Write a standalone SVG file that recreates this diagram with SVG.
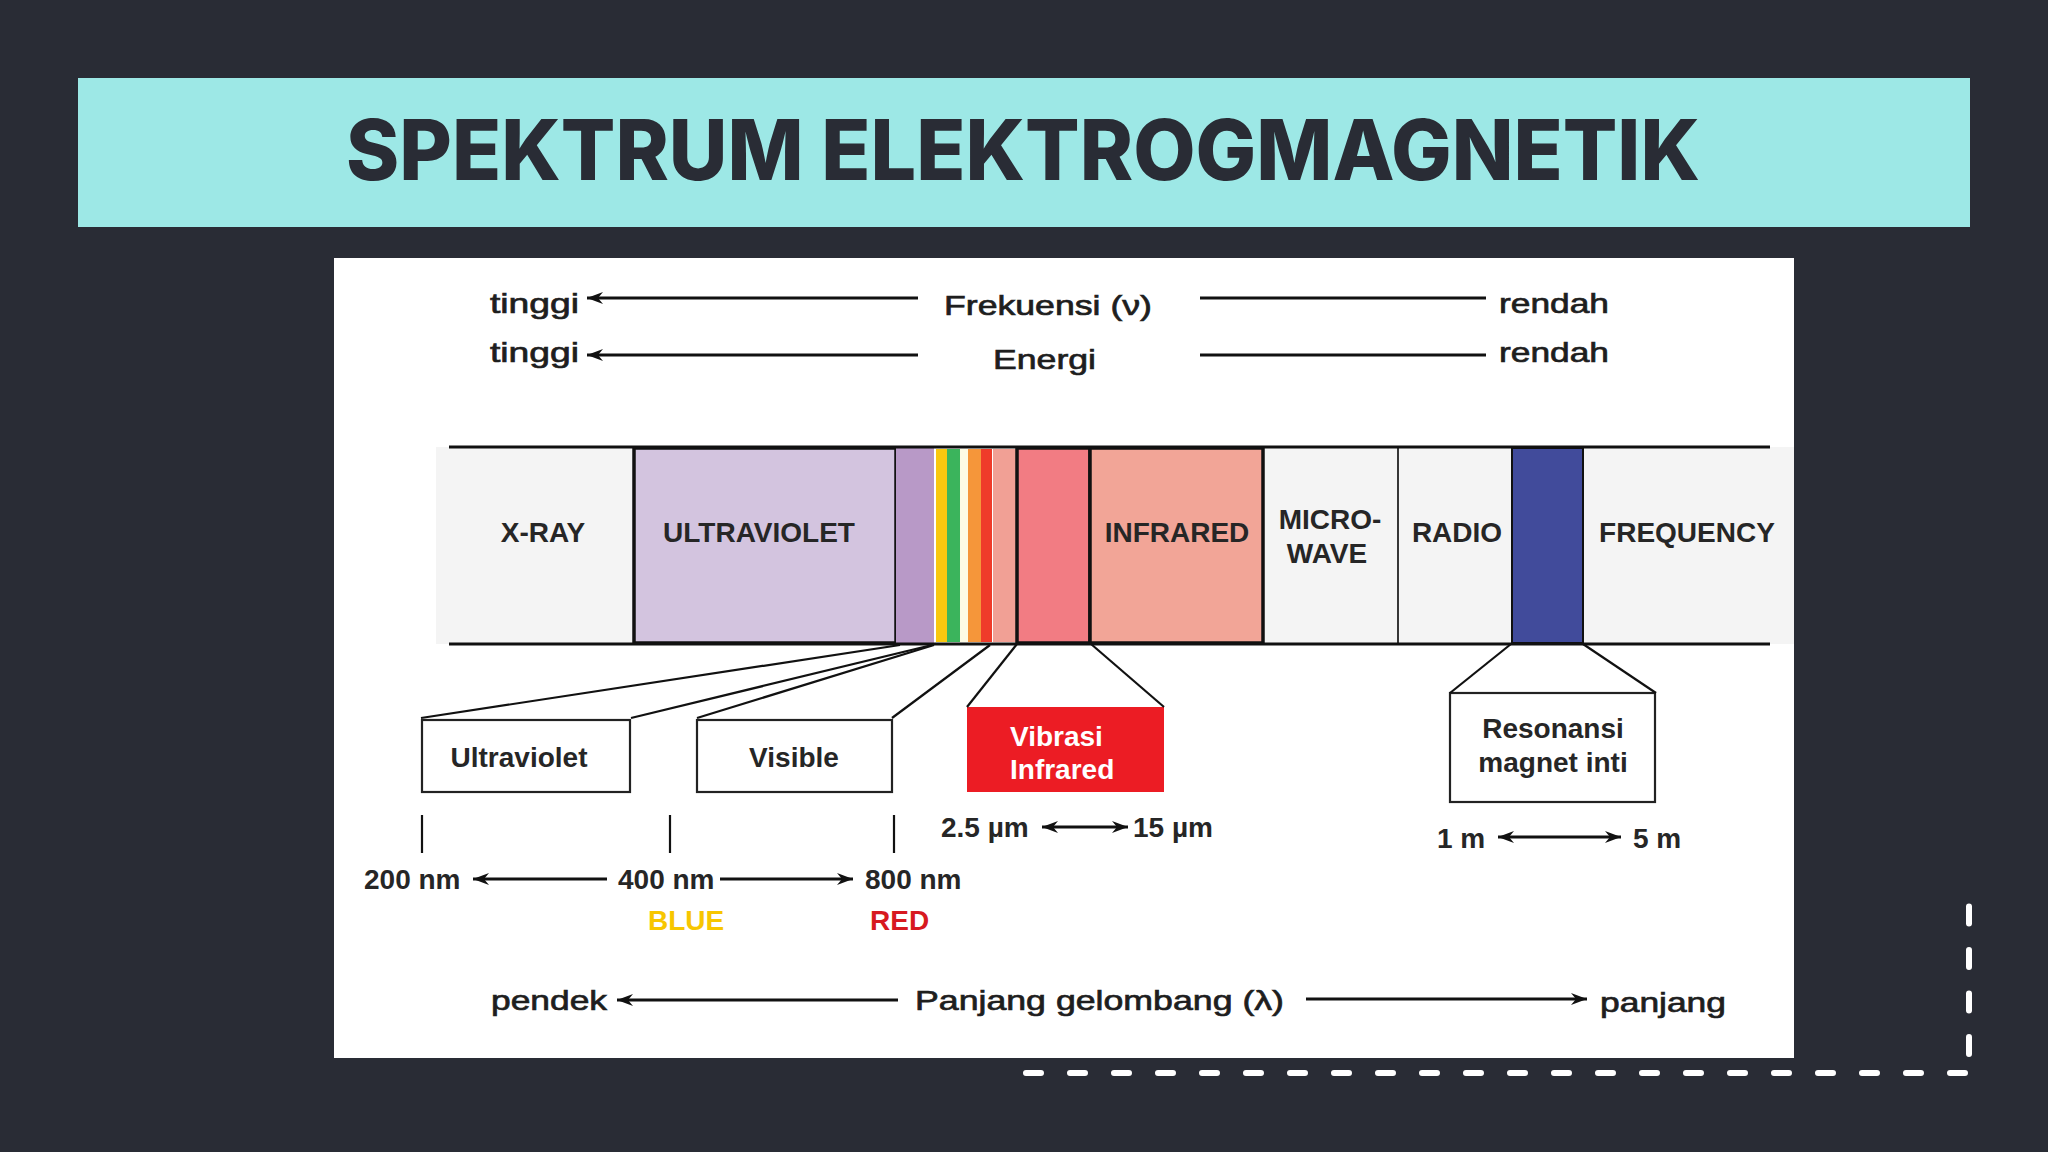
<svg xmlns="http://www.w3.org/2000/svg" width="2048" height="1152" viewBox="0 0 2048 1152">
  <defs>
    <marker id="ah" markerUnits="userSpaceOnUse" markerWidth="18" markerHeight="14" refX="16" refY="7" orient="auto-start-reverse">
      <path d="M0,1 L16,7 L0,13 L5,7 Z" fill="#111"/>
    </marker>
    <style>
      .t { font-family: "Liberation Sans", Arial, sans-serif; fill: #1e1e1e; font-size: 28px; }
      .m { stroke: #1e1e1e; stroke-width: 0.7px; }
      .b { font-weight: bold; fill: #262626; }
      .c { text-anchor: middle; }
      .ln { stroke: #111; stroke-width: 3; fill: none; }
      .thin { stroke: #111; stroke-width: 2.2; fill: none; }
      .box { fill: #ffffff; stroke: #222; stroke-width: 2.2; }
      .band { stroke: #111; stroke-width: 3.5; }
      .dash { stroke: #ffffff; stroke-width: 6; stroke-linecap: round; fill: none; }
    </style>
  </defs>

  <rect x="0" y="0" width="2048" height="1152" fill="#292c35"/>

  <g id="title">
    <rect x="78" y="78" width="1892" height="149" fill="#9de8e6"/>
    <text x="346" y="180" font-family="Inter, 'Open Sans', sans-serif" font-weight="800" font-size="84" fill="#292c35" textLength="1354" lengthAdjust="spacingAndGlyphs">SPEKTRUM ELEKTROGMAGNETIK</text>
  </g>

  <g id="panel">
    <rect x="334" y="258" width="1460" height="800" fill="#ffffff"/>
  </g>

  <g id="decor-dashes">
    <path class="dash" d="M1026,1073 H1969" stroke-dasharray="15 29"/>
    <path class="dash" d="M1969,1054 V900" stroke-dasharray="17 26.5"/>
  </g>

  <g id="header-labels">
    <text class="t m" x="490" y="313" textLength="89" lengthAdjust="spacingAndGlyphs">tinggi</text>
    <text class="t m" x="944" y="315" textLength="208" lengthAdjust="spacingAndGlyphs">Frekuensi (ν)</text>
    <text class="t m" x="1499" y="313" textLength="110" lengthAdjust="spacingAndGlyphs">rendah</text>
    <text class="t m" x="490" y="362" textLength="89" lengthAdjust="spacingAndGlyphs">tinggi</text>
    <text class="t m" x="993" y="369" textLength="103" lengthAdjust="spacingAndGlyphs">Energi</text>
    <text class="t m" x="1499" y="362" textLength="110" lengthAdjust="spacingAndGlyphs">rendah</text>
  </g>

  <g id="spectrum-bar">
    <rect x="436" y="447" width="1358" height="197" fill="#f4f4f4"/>
    <rect class="band" x="634" y="448" width="262" height="195" fill="#d3c4df"/>
    <rect x="896" y="448" width="38" height="195" fill="#b899c7"/>
    <rect x="934" y="448" width="83" height="195" fill="#ffffff"/>
    <rect x="936" y="449" width="11" height="193" fill="#f8c80f"/>
    <rect x="947" y="449" width="13" height="193" fill="#3bb45c"/>
    <rect x="960" y="449" width="8" height="193" fill="#fdfbe4"/>
    <rect x="968" y="449" width="13" height="193" fill="#f5963a"/>
    <rect x="981" y="449" width="11" height="193" fill="#ef3b2a"/>
    <rect x="993" y="449" width="23" height="193" fill="#f1a095"/>
    <rect class="band" x="1017" y="448" width="73" height="195" fill="#f27c83"/>
    <rect class="band" x="1090" y="448" width="173" height="195" fill="#f2a597"/>
    <line x1="1398" y1="447" x2="1398" y2="644" stroke="#222" stroke-width="1.8"/>
    <rect x="1512" y="448" width="71" height="195" fill="#414b9b" stroke="#111" stroke-width="2"/>
    <line class="ln" x1="449" y1="447" x2="1770" y2="447" stroke-width="2.5"/>
    <line class="ln" x1="449" y1="644" x2="1770" y2="644" stroke-width="2.5"/>
    <text class="t b c" x="543" y="542">X-RAY</text>
    <text class="t b c" x="759" y="542">ULTRAVIOLET</text>
    <text class="t b c" x="1177" y="542">INFRARED</text>
    <text class="t b c" x="1330" y="529">MICRO-</text>
    <text class="t b c" x="1327" y="563">WAVE</text>
    <text class="t b c" x="1457" y="542">RADIO</text>
    <text class="t b c" x="1687" y="542">FREQUENCY</text>
  </g>

  <g id="node-ultraviolet">
    <rect class="box" x="422" y="720" width="208" height="72"/>
    <text class="t b c" x="519" y="767">Ultraviolet</text>
  </g>

  <g id="node-visible">
    <rect class="box" x="697" y="720" width="195" height="72"/>
    <text class="t b c" x="794" y="767">Visible</text>
  </g>

  <g id="node-vibrasi">
    <rect x="967" y="707" width="197" height="85" fill="#ec1c24"/>
    <text class="t b" x="1010" y="746" style="fill:#ffffff">Vibrasi</text>
    <text class="t b" x="1010" y="779" style="fill:#ffffff">Infrared</text>
  </g>

  <g id="node-resonansi">
    <rect class="box" x="1450" y="693" width="205" height="109"/>
    <text class="t b c" x="1553" y="738">Resonansi</text>
    <text class="t b c" x="1553" y="772">magnet inti</text>
  </g>

  <g id="connectors">
    <line class="thin" x1="421" y1="718" x2="900" y2="645"/>
    <line class="thin" x1="631" y1="718" x2="932" y2="645"/>
    <line class="thin" x1="697" y1="718" x2="934" y2="645"/>
    <line class="thin" x1="892" y1="718" x2="990" y2="645"/>
    <line class="thin" x1="967" y1="707" x2="1017" y2="644"/>
    <line class="thin" x1="1164" y1="707" x2="1091" y2="644"/>
    <line class="thin" x1="1450" y1="693" x2="1511" y2="644"/>
    <line class="thin" x1="1656" y1="693" x2="1583" y2="644"/>

    <line class="ln" x1="918" y1="298" x2="587" y2="298" marker-end="url(#ah)"/>
    <line class="ln" x1="1200" y1="298" x2="1486" y2="298"/>
    <line class="ln" x1="918" y1="355" x2="587" y2="355" stroke-width="3.5" marker-end="url(#ah)"/>
    <line class="ln" x1="1200" y1="355" x2="1486" y2="355"/>

    <line class="thin" x1="422" y1="815" x2="422" y2="853"/>
    <line class="thin" x1="670" y1="815" x2="670" y2="853"/>
    <line class="thin" x1="894" y1="815" x2="894" y2="853"/>

    <line class="ln" x1="607" y1="879" x2="473" y2="879" marker-end="url(#ah)"/>
    <line class="ln" x1="720" y1="879" x2="853" y2="879" marker-end="url(#ah)"/>
    <line class="ln" x1="1042" y1="827" x2="1128" y2="827" marker-start="url(#ah)" marker-end="url(#ah)"/>
    <line class="ln" x1="1498" y1="837" x2="1621" y2="837" marker-start="url(#ah)" marker-end="url(#ah)"/>
    <line class="ln" x1="898" y1="1000" x2="617" y2="1000" marker-end="url(#ah)"/>
    <line class="ln" x1="1306" y1="999" x2="1587" y2="999" marker-end="url(#ah)"/>
  </g>

  <g id="scale-labels">
    <text class="t b" x="941" y="837">2.5 µm</text>
    <text class="t b" x="1133" y="837">15 µm</text>
    <text class="t b" x="1437" y="848">1 m</text>
    <text class="t b" x="1633" y="848">5 m</text>
    <text class="t b" x="364" y="889">200 nm</text>
    <text class="t b" x="618" y="889">400 nm</text>
    <text class="t b" x="865" y="889">800 nm</text>
    <text class="t b" x="648" y="930" font-size="27" style="fill:#f7c600">BLUE</text>
    <text class="t b" x="870" y="930" font-size="27" style="fill:#d71920">RED</text>
  </g>

  <g id="footer-labels">
    <text class="t m" x="491" y="1010" textLength="116" lengthAdjust="spacingAndGlyphs">pendek</text>
    <text class="t m" x="915" y="1010" textLength="369" lengthAdjust="spacingAndGlyphs">Panjang gelombang (λ)</text>
    <text class="t m" x="1600" y="1012" textLength="126" lengthAdjust="spacingAndGlyphs">panjang</text>
  </g>
</svg>
